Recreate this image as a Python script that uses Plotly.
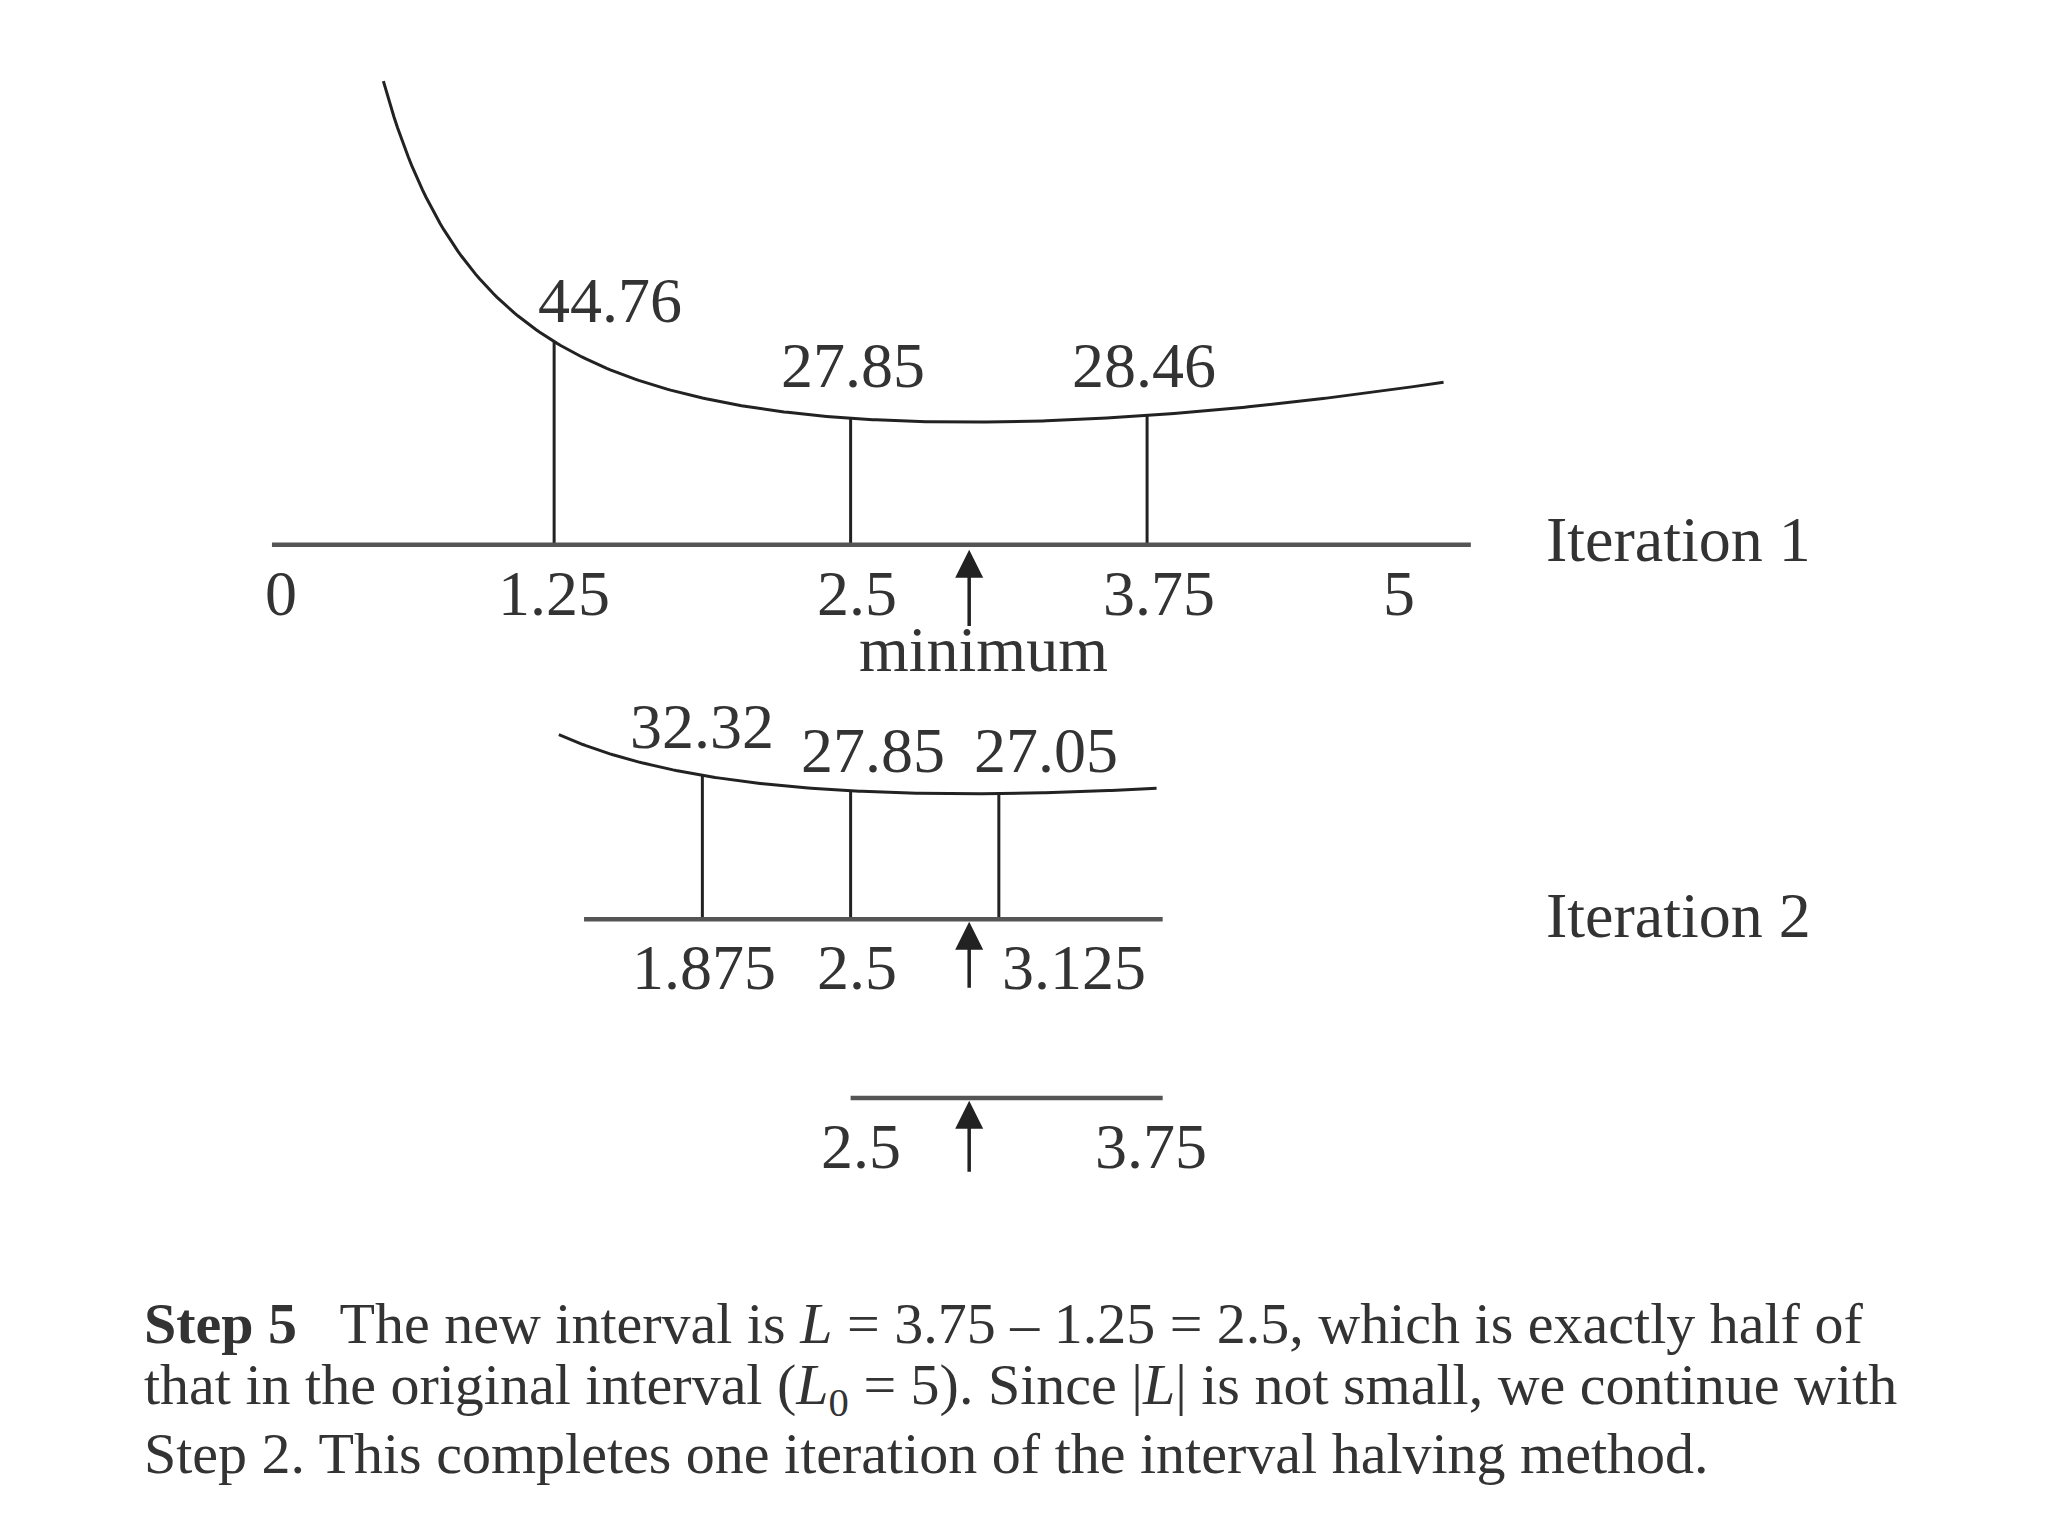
import numpy as np
import plotly.graph_objects as go

# interval halving on f(x) = x^2 + 54/x
iter1_points = [1.25, 2.5, 3.75]
iter1_values = ["44.76", "27.85", "28.46"]
iter1_ticks = [0, 1.25, 2.5, 3.75, 5]
iter1_tick_labels = ["0", "1.25", "2.5", "3.75", "5"]
iter2_points = [1.875, 2.5, 3.125]
iter2_values = ["32.32", "27.85", "27.05"]
iter2_tick_labels = ["1.875", "2.5", "3.125"]
iter3_ends = [2.5, 3.75]
iter3_tick_labels = ["2.5", "3.75"]
x_minimum = 3.0

W, H = 1575, 1185          # layout grid matching the reference picture
X0, SCALE = 192, 182.4     # pixel of x=0 and pixels per unit


def f(x):
    return x ** 2 + 54 / np.asarray(x)


def px(p):
    return (p - X0) / SCALE


# vertical placement of each row (value -> height in layout grid)
def row1(v):
    return 414 - 3.5 * v


def row2(v):
    return 592 + (32.32 - v) * 2.66


SERIF = "Liberation Serif"
BLACK = "#222"
fig = go.Figure()

# iteration 1 curve and stems
xs = np.linspace(0.53, 5.0, 300)
fig.add_trace(go.Scatter(x=xs, y=row1(f(xs)), mode="lines", line=dict(color=BLACK, width=3)))
for p in iter1_points:
    fig.add_trace(go.Scatter(x=[p, p], y=[414, row1(f(p))], mode="lines", line=dict(color=BLACK, width=3)))
fig.add_trace(go.Scatter(x=[px(203), px(1125)], y=[414, 414], mode="lines", line=dict(color="#555", width=4.5)))

# iteration 2
xs2 = np.linspace(1.27, 3.79, 200)
fig.add_trace(go.Scatter(x=xs2, y=row2(f(xs2)), mode="lines", line=dict(color=BLACK, width=3)))
for p in iter2_points:
    fig.add_trace(go.Scatter(x=[p, p], y=[703, row2(f(p))], mode="lines", line=dict(color=BLACK, width=3)))
fig.add_trace(go.Scatter(x=[px(443), px(888)], y=[703, 703], mode="lines", line=dict(color="#555", width=4.5)))

# iteration 3
fig.add_trace(go.Scatter(x=[iter3_ends[0], px(888)], y=[841, 841], mode="lines", line=dict(color="#555", width=4.5)))

font = dict(family=SERIF, size=64, color="#333")
ann = []
for v, lab, dx in zip(iter1_ticks, iter1_tick_labels, [18, 0, 5, 9, -34]):
    ann.append(dict(x=v + dx / SCALE, y=452, text=lab))
for p, lab, dx, dy in zip(iter1_points, iter1_values, [43, 2, -2], [226, 276, 276]):
    ann.append(dict(x=p + dx / SCALE, y=dy, text=lab))
ann.append(dict(x=px(750), y=495, text="minimum"))
for p, lab, dx in zip(iter2_points, iter2_tick_labels, [1, 5, 58]):
    ann.append(dict(x=p + dx / SCALE, y=740, text=lab))
for p, lab, dx, dy in zip(iter2_points, iter2_values, [0, 17, 36], [554, 573, 573]):
    ann.append(dict(x=p + dx / SCALE, y=dy, text=lab))
for p, lab, dx in zip(iter3_ends, iter3_tick_labels, [8, 3]):
    ann.append(dict(x=p + dx / SCALE, y=878, text=lab))
ann.append(dict(x=px(1285), y=410, text="Iteration 1"))
ann.append(dict(x=px(1285), y=700, text="Iteration 2"))
for a in ann:
    a.update(xref="x", yref="y", showarrow=False, font=font)

# arrows pointing at the minimum
for tail, head in [(478, 418), (757, 705), (899, 843)]:
    ann.append(dict(x=x_minimum, y=head, ax=x_minimum, ay=tail, xref="x", yref="y", axref="x", ayref="y",
                    text="", showarrow=True, arrowhead=2, arrowsize=1.6, arrowwidth=3.5, arrowcolor=BLACK))

# caption paragraph
lines = [
    "<b>Step 5</b>   The new interval is <i>L</i> = 3.75 \u2013 1.25 = 2.5, which is exactly half of",
    "that in the original interval (<i>L</i><sub>0</sub> = 5). Since |<i>L</i>| is not small, we continue with",
    "Step 2. This completes one iteration of the interval halving method.",
]
for i, t in enumerate(lines):
    ann.append(dict(x=px(103), y=1015 + 50 * i, text=t, xref="x", yref="y", xanchor="left", showarrow=False,
                    font=dict(family=SERIF, size=58, color="#333")))

fig.update_layout(
    annotations=ann,
    width=2048, height=1536,
    margin=dict(l=0, r=0, t=0, b=0),
    plot_bgcolor="white", paper_bgcolor="white",
    showlegend=False,
    xaxis=dict(range=[px(0), px(W)], visible=False),
    yaxis=dict(range=[H, 0], visible=False),
)
fig.write_html("out.html")
